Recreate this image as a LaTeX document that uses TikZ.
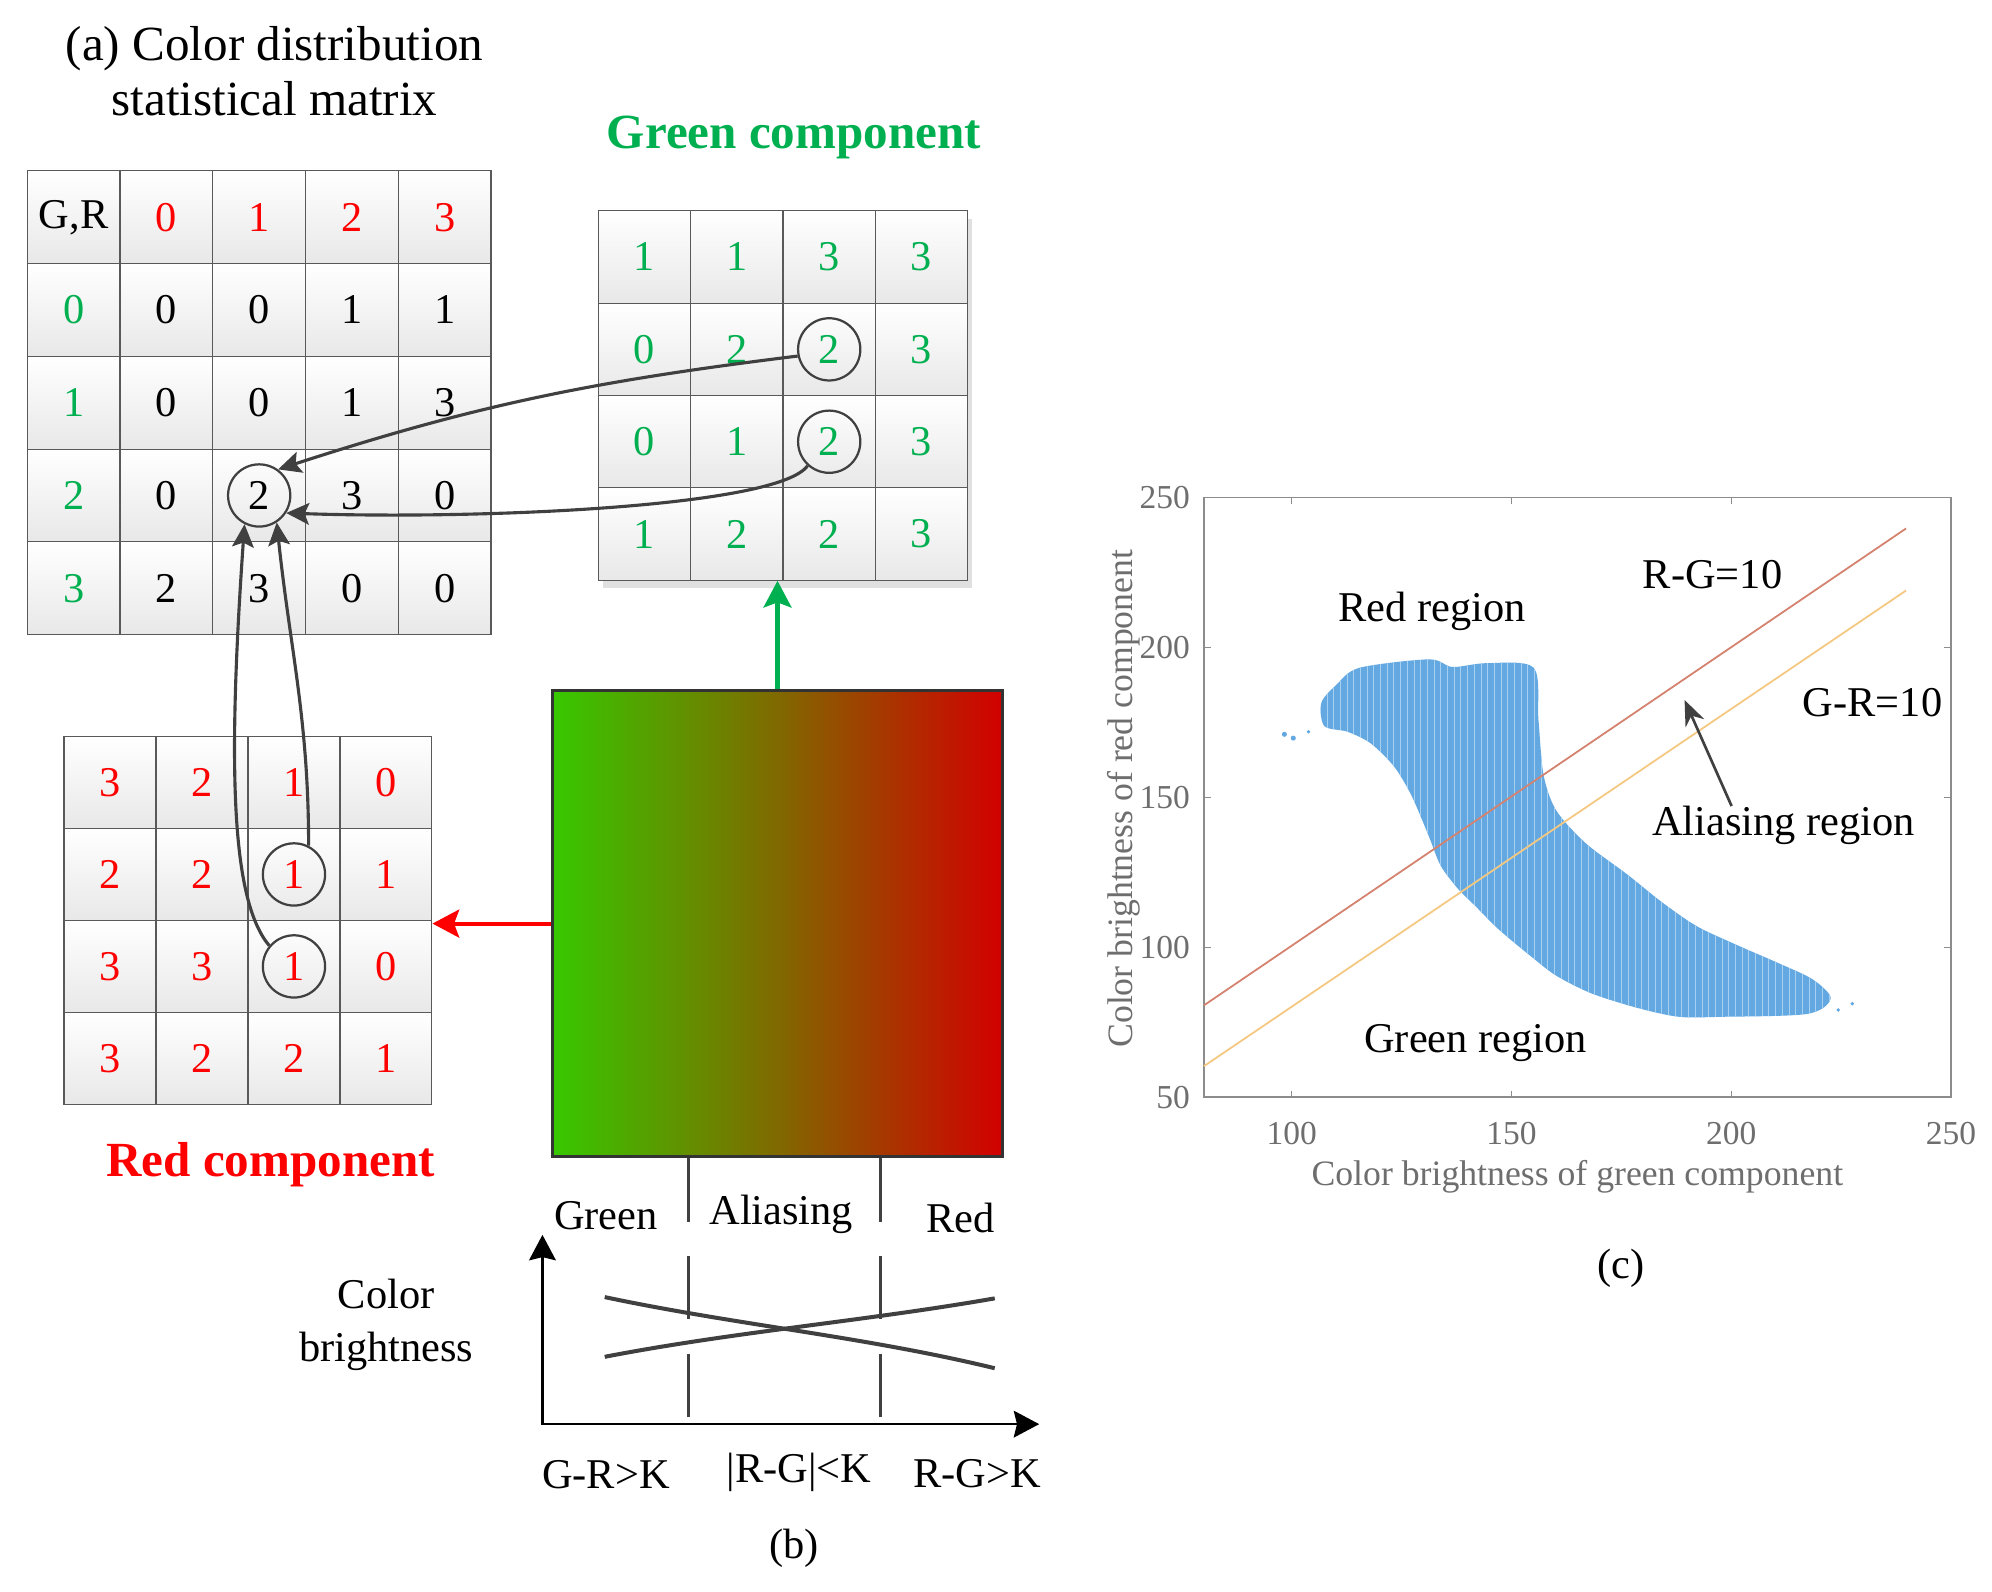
\documentclass[tikz,border=0pt]{standalone}
\usepackage{fontspec}
\setmainfont{Liberation Serif}
\usetikzlibrary{arrows.meta,patterns}

\definecolor{cgreen}{RGB}{0,176,80}
\definecolor{cred}{RGB}{255,0,0}
\definecolor{cgray}{RGB}{64,64,64}
\definecolor{bargreen}{RGB}{55,200,0}
\definecolor{barmid}{RGB}{128,105,0}
\definecolor{barred}{RGB}{210,0,0}
\definecolor{blobblue}{RGB}{100,168,226}
\definecolor{blobline}{RGB}{165,208,242}
\definecolor{rgline}{RGB}{212,130,110}
\definecolor{grline}{RGB}{245,200,130}
\definecolor{axgray}{RGB}{110,110,110}

\begin{document}
\begin{tikzpicture}[x=0.02cm, y=0.02cm,
  txt/.style={font=\fontsize{19}{24}\selectfont, inner sep=0pt, align=center},
  big/.style={font=\fontsize{22}{25}\selectfont, inner sep=0pt, align=center},
  cell/.style={draw=black!65, line width=0.5pt, minimum size=1.46cm, inner sep=0pt,
    top color=white, bottom color=black!9, font=\fontsize{19}{23}\selectfont},
  gcell/.style={cell, minimum size=1.454cm, text=cgreen},
  rcell/.style={cell, minimum size=1.448cm, text=cred},
  ring/.style={circle, draw=cgray, line width=1pt, minimum size=0.98cm, inner sep=0pt},
  link/.style={draw=cgray, line width=1.4pt, -{Stealth[length=0.36cm, width=0.34cm, inset=0.07cm]}},
  garrow/.style={draw=cgreen, line width=1.8pt, -{Stealth[length=0.42cm, width=0.44cm, inset=0.08cm]}},
  rarrow/.style={draw=cred, line width=1.8pt, -{Stealth[length=0.42cm, width=0.44cm, inset=0.08cm]}},
  axis/.style={draw=black, line width=1.2pt, {Stealth[length=0.4cm, width=0.42cm, inset=0.05cm]}-{Stealth[length=0.4cm, width=0.42cm, inset=0.05cm]}},
  divider/.style={draw=cgray, line width=1.5pt, dash pattern=on 1cm off 0.54cm},
  curve/.style={draw=cgray, line width=1.8pt},
  frame/.style={draw=black!45, line width=0.6pt},
  tick/.style={font=\fontsize{15}{18}\selectfont, text=axgray, inner sep=0pt},
  axl/.style={font=\fontsize{16}{19}\selectfont, text=axgray, inner sep=0pt},
  reg/.style={font=\fontsize{19}{23}\selectfont, inner sep=0pt},
  pointer/.style={draw=cgray, line width=1.2pt, -{Stealth[length=0.4cm, width=0.32cm]}}]
  \useasboundingbox (0,0) rectangle (1568,-1253);

  % (a) statistical matrix
  \node[big] (ta) at (216,-56) {(a) Color distribution\\statistical matrix};
  \foreach \t/\k [count=\c from 0] in {{G,R}/black,0/cred,1/cred,2/cred,3/cred}
    \node[cell, text=\k] (a-0-\c) at (58+73*\c,-171) {\t};
  \foreach \r/\row in {1/{0,0,0,1,1},2/{1,0,0,1,3},3/{2,0,2,3,0},4/{3,2,3,0,0}}
    \foreach \t [count=\c from 0] in \row
      \node[cell] (a-\r-\c) at (58+73*\c,-171-73*\r) {\ifnum\c=0\color{cgreen}\fi\t};
  \node[ring] (ra) at (a-3-2) {};

  % green component
  \node[big, font=\fontsize{22}{27}\selectfont\bfseries, text=cgreen] (tg) at (625,-108) {Green component};
  \fill[black!12] (475,-172) rectangle (765,-463);
  \foreach \r/\row in {0/{1,1,3,3},1/{0,2,2,3},2/{0,1,2,3},3/{1,2,2,3}}
    \foreach \t [count=\c from 0] in \row
      \node[gcell] (g-\r-\c) at (507.3+72.7*\c,-202.3-72.7*\r) {\t};
  \node[ring] (gr1) at (g-1-2) {};
  \node[ring] (gr2) at (g-2-2) {};

  % red component
  \node[big, font=\fontsize{22}{27}\selectfont\bfseries, text=cred] (tr) at (213,-917) {Red component};
  \foreach \r/\row in {0/{3,2,1,0},1/{2,2,1,1},2/{3,3,1,0},3/{3,2,2,1}}
    \foreach \t [count=\c from 0] in \row
      \node[rcell] (r-\r-\c) at (86.6+72.4*\c,-615.9-72.4*\r) {\t};
  \node[ring] (rr1) at (r-1-2) {};
  \node[ring] (rr2) at (r-2-2) {};

  \draw[link] (gr1.192) to[out=187, in=18] (ra.54);
  \draw[link] (gr2.228) to[out=235, in=-2, out distance=0.8cm, in distance=3cm] (ra.-33);
  \draw[link] (rr1.63) to[out=90, in=-84] (ra.-57);
  \draw[link] (rr2.140) to[out=130, in=-94, out distance=0.9cm, in distance=4cm] (ra.-117);

  % (b) colour bar
  \node[draw=black!80, line width=1.2pt, minimum width=7.08cm, minimum height=7.34cm, inner sep=0pt,
    left color=bargreen, right color=barred, middle color=barmid] (bar) at (612,-727) {};
  \draw[garrow] (bar.north) -- (bar.north |- g-3-2.south);
  \draw[rarrow] (bar.west) -- (bar.west -| r-1-3.east);

  \coordinate (d1) at (542,-1115);
  \coordinate (d2) at (693,-1115);
  \draw[divider] (bar.south -| d1) -- (d1);
  \draw[divider] (bar.south -| d2) -- (d2);

  \coordinate (yend) at (427,-972);
  \coordinate (xend) at (818,-1121);
  \draw[axis] (yend) |- (xend);
  \draw[curve] (476,-1021) .. controls (580,-1043) and (680,-1052) .. (783,-1077);
  \draw[curve] (476,-1068) .. controls (580,-1048) and (680,-1040) .. (783,-1022);

  \node[txt] (lg) at (477,-957) {Green};
  \node[txt] (la) at (615,-956) {Aliasing};
  \node[txt] (lr) at (756,-959) {Red};
  \node[txt] (lcb) at (304,-1043) {Color\\brightness};
  \node[txt] (k1) at (477,-1161) {G-R>K};
  \node[txt] (k2) at (629,-1159) {|R-G|<K};
  \node[txt] (k3) at (769,-1160) {R-G>K};
  \node[txt] (lb) at (625,-1219) {(b)};

  % (c) scatter plot
  \path[fill=blobblue, postaction={pattern=vertical lines, pattern color=blobline}]
    plot[smooth cycle] coordinates {(1051.6,-539.4) (1069.9,-525.7) (1124.8,-519) (1143.2,-525)
    (1170.6,-522) (1207.3,-525.7) (1211,-566.9) (1215,-610) (1225,-638) (1248.5,-664)
    (1280.5,-688) (1308,-710) (1335.5,-729) (1367.5,-744) (1399.6,-758) (1427,-771)
    (1441,-786) (1422.5,-798.1) (1353.8,-800.4) (1321.8,-800.4) (1289.7,-793.6) (1253.1,-782.1)
    (1225.6,-768.4) (1207.3,-754.6) (1179.8,-731.7) (1161.5,-713.4) (1147.7,-699.7) (1134,-681.4)
    (1124.8,-658.5) (1111.1,-626.4) (1097.4,-603.5) (1079,-585.2) (1060.7,-576) (1042.4,-571.5)
    (1040.1,-553.2)};
  \fill[blobblue] (1011,-578) circle (2) (1018,-581) circle (2) (1030,-576) circle (1.5)
    (1458,-790) circle (1.5) (1447,-795) circle (1.5);

  \begin{scope}[shift={(671,-981.5)}, x=0.06918cm, y=0.0472cm]
    \draw[frame] (80,50) rectangle (250,250);
    \foreach \v in {50,100,...,250} {
      \draw[frame] (80,\v) -- ++(1.5,0);
      \draw[frame] (250,\v) -- ++(-1.5,0);
      \node[tick, anchor=east] (yt-\v) at (76.9,\v) {\v};
    }
    \foreach \v in {100,150,200,250} {
      \draw[frame] (\v,50) -- ++(0,2.1);
      \draw[frame] (\v,250) -- ++(0,-2.1);
      \node[tick] (xt-\v) at (\v,37.9) {\v};
    }
    \draw[rgline, line width=0.8pt] (80,80.6) -- (239.8,239.7);
    \draw[grline, line width=0.8pt] (80,60.3) -- (239.8,219);
  \end{scope}

  \node[axl] (xlab) at (1241.6,-926) {Color brightness of green component};
  \node[axl, rotate=90] (ylab) at (884.4,-628.7) {Color brightness of red component};
  \node[reg] (lred) at (1127,-481) {Red region};
  \node[reg] (lrg) at (1348,-452) {R-G=10};
  \node[reg] (lgr) at (1474,-553) {G-R=10};
  \node[reg] (lal) at (1404,-650) {Aliasing region};
  \node[reg] (lgreen) at (1161.5,-821) {Green region};
  \node[txt] (lc) at (1276,-998) {(c)};
  \coordinate (altip) at (1326,-551);
  \draw[pointer] ([xshift=-0.82cm]lal.north) -- (altip);
\end{tikzpicture}
\end{document}
